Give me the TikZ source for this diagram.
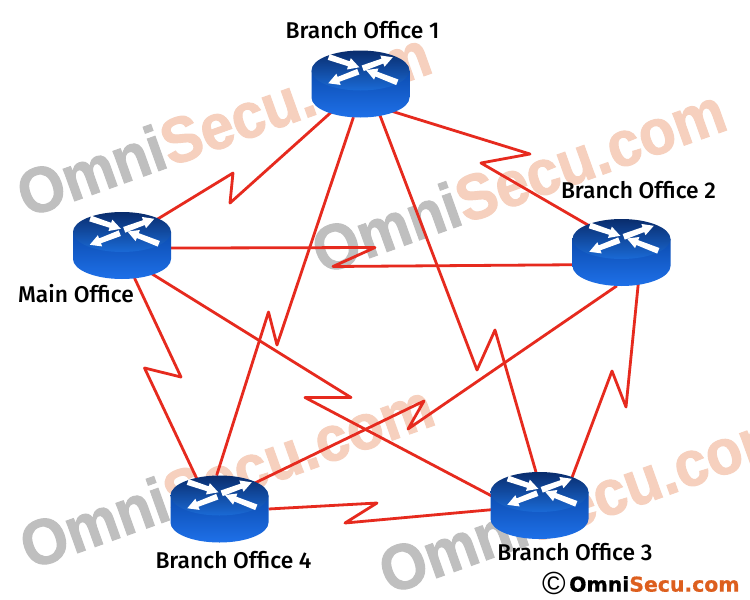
\documentclass[tikz,border=0pt]{standalone}
\usepackage{fontspec}
\usetikzlibrary{shapes.geometric}
\setmainfont{Fira Sans}[UprightFont=* Medium,BoldFont=* Bold]
\newfontfamily\wmfont{Liberation Sans}[UprightFont=* Bold,FakeBold=1.6,FakeStretch=0.93]
\newfontfamily\logofont{DejaVu Sans}[UprightFont=* Bold,FakeBold=0.6]
\newfontfamily\crfont{Liberation Sans}
\definecolor{wmgrey}{HTML}{BFBFBF}
\definecolor{wmpeach}{HTML}{F6D0BE}
\definecolor{linkred}{HTML}{E62A1E}
\definecolor{logoor}{HTML}{DD5F1E}
\newcommand{\rtarrow}[4]{\fill[white,shift={(#1,#2)},rotate=#3] (0,-3) -- ({#4-11},-2.6) -- ({#4-11},-6) -- (#4,0) -- ({#4-11},6) -- ({#4-11},2.6) -- (0,3) -- cycle;}
\tikzset{
  hub/.style={ellipse,inner sep=0pt,outer sep=0pt,minimum width=98pt,minimum height=67pt},
  link/.style={draw=linkred,line width=2.8pt,line join=round},
  lab/.style={font=\fontsize{22.8}{24}\selectfont,text=black,inner sep=0pt},
  wm/.style={rotate=19.7,anchor=base west,inner sep=0pt,font=\wmfont\fontsize{64}{64}\selectfont},
  router/.pic={
    \shade[top color={rgb,255:red,12;green,76;blue,176},bottom color={rgb,255:red,30;green,112;blue,232}]
      (-49,-13.5) -- (-49,13.5) arc[start angle=180,end angle=360,x radius=49pt,y radius=20pt] -- (49,-13.5) -- cycle;
    \shade[top color={rgb,255:red,9;green,44;blue,108},middle color={rgb,255:red,13;green,76;blue,170},bottom color={rgb,255:red,26;green,106;blue,214}]
      (0,-13.5) ellipse[x radius=49pt,y radius=20pt];
    \rtarrow{-31.8}{-27}{-18.6}{32.3}
    \rtarrow{2.2}{-15.7}{20.1}{32}
    \rtarrow{-2.2}{-12.3}{201.1}{32.2}
    \rtarrow{36.8}{-1.7}{158.6}{33.6}
  }
}
\begin{document}
\begin{tikzpicture}[x=1pt,y=-1pt]
\useasboundingbox (0,0) rectangle (750,600);
\fill[white] (0,0) rectangle (750,600);
% watermarks
\node[wm] (wa) at (27,218) {{\color{wmgrey}Omni}{\color{wmpeach}Secu.com}};
\node[wm] (wb) at (322,275) {{\color{wmgrey}Omni}{\color{wmpeach}Secu.com}};
\node[wm] (wc) at (30,570) {{\color{wmgrey}Omni}{\color{wmpeach}Secu.com}};
\node[wm] (wd) at (389,595) {{\color{wmgrey}Omni}{\color{wmpeach}Secu.com}};
% router nodes
\node[hub] (main) at (122,245.5) {};
\node[hub] (bo1) at (360.5,84) {};
\node[hub] (bo2) at (621.5,252.5) {};
\node[hub] (bo3) at (539.5,505.5) {};
\node[hub] (bo4) at (219.5,509) {};
% links
\draw[link] (main.37) -- (233,173) -- (230,203) -- (bo1.224.6);
\draw[link] (main.357) -- (375,247.5) -- (333,266.5) -- (bo2.195);
\draw[link] (main.291.8) -- (181,377) -- (144.5,368) -- (bo4.127.1);
\draw[link] (main.316.2) -- (351,397.5) -- (305,397.5) -- (bo3.169.4);
\draw[link] (bo1.258.9) -- (277,345) -- (268.5,312) -- (bo4.95);
\draw[link] (bo1.302.2) -- (477,370) -- (495,330) -- (bo3.96);
\draw[link] (bo1.318.4) -- (530,154) -- (481,163) -- (bo2.140.7);
\draw[link] (bo2.298) -- (626,407) -- (612,371) -- (bo3.39.4);
\draw[link] (bo2.262) -- (408,429) -- (424,401) -- (bo4.37.6);
\draw[link] (bo4.0) -- (377,503) -- (345,523) -- (bo3.185.3);
% routers
\pic at (main) {router};
\pic at (bo1) {router};
\pic at (bo2) {router};
\pic at (bo3) {router};
\pic at (bo4) {router};
% labels
\node[lab] (lb1) at (362.5,30) {Branch Office 1};
\node[lab] (lm) at (76,294) {Main Office};
\node[lab] (lb2) at (638.5,190) {Branch Office 2};
\node[lab] (lb3) at (575,552) {Branch Office 3};
\node[lab] (lb4) at (233.5,560) {Branch Office 4};
% logo
\node[inner sep=0pt,font=\crfont\fontsize{32}{32}\selectfont] (cr) at (554,583.5) {©};
\node[inner sep=0pt,anchor=west,font=\logofont\fontsize{20.4}{22}\selectfont] (logo) at (569,584) {{\color{black}Omni}{\color{logoor}Secu.com}};
\end{tikzpicture}
\end{document}
